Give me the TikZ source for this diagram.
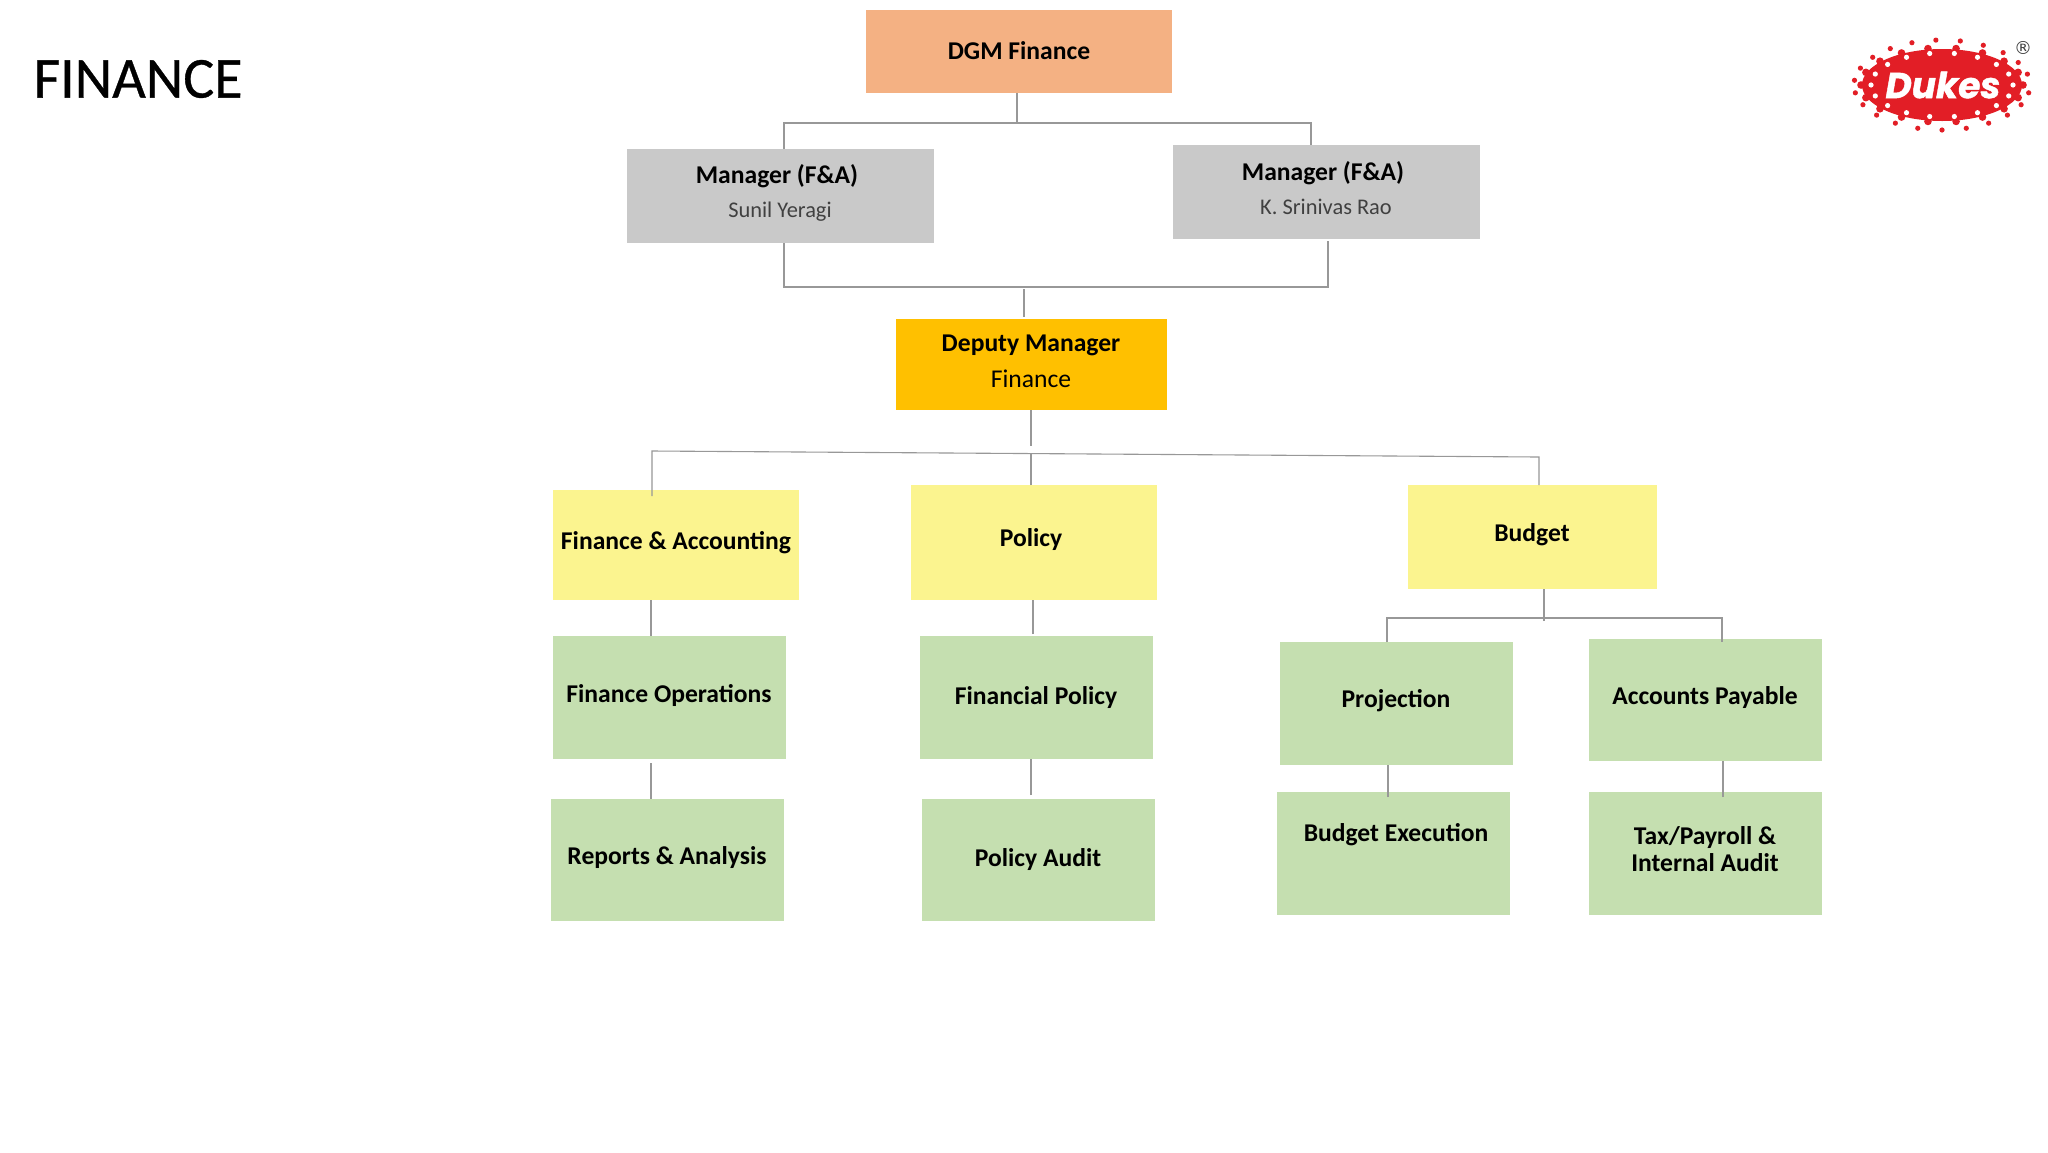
\documentclass[tikz,border=0pt]{standalone}
\usepackage{fontspec}
\setmainfont{Carlito}
\newfontfamily\logofont{Poppins}
\newfontfamily\regfont{DejaVu Sans}
\definecolor{cOrange}{HTML}{F4B183}
\definecolor{cGrey}{HTML}{C9C9C9}
\definecolor{cGold}{HTML}{FFC000}
\definecolor{cYellow}{HTML}{FBF48F}
\definecolor{cGreen}{HTML}{C5DFB0}
\definecolor{cLine}{HTML}{989898}
\definecolor{cRed}{HTML}{E21E26}
\tikzset{
  x=1pt,y=-1pt,
  boxnode/.style={inner sep=0pt,outer sep=0pt,anchor=center},
  lbl/.style={inner sep=0pt,outer sep=0pt,anchor=center,align=center,text=black,font=\fontsize{25.6}{27}\selectfont\bfseries},
  sublbl/.style={inner sep=0pt,outer sep=0pt,anchor=center,align=center,text=black!75,font=\fontsize{22.4}{25}\selectfont},
  conn/.style={draw=cLine,line width=1.1pt},
}
\newcommand{\bx}[6]{%
  \pgfmathsetmacro{\cxv}{(#3+#5)/2}\pgfmathsetmacro{\cyv}{(#4+#6)/2}%
  \pgfmathsetmacro{\wv}{#5-#3}\pgfmathsetmacro{\hv}{#6-#4}%
  \node[boxnode,fill=#1,minimum width=\wv pt,minimum height=\hv pt] (#2) at (\cxv,\cyv) {};}
\begin{document}
\begin{tikzpicture}
\useasboundingbox (0,0) rectangle (2048,1152);
\fill[white] (0,0) rectangle (2048,1152);
\node[inner sep=0pt,anchor=center,font=\fontsize{58}{60}\selectfont\addfontfeature{FakeBold=0.6}] (title) at (138,79) {FINANCE};
% boxes
\bx{cOrange}{dgm}{866}{10}{1172}{93}
\bx{cGrey}{mone}{627}{149}{934}{243}
\bx{cGrey}{mtwo}{1173}{145}{1480}{239}
\bx{cGold}{dep}{896}{319}{1167}{410}
\bx{cYellow}{fa}{553}{490}{799}{600}
\bx{cYellow}{pol}{911}{485}{1157}{600}
\bx{cYellow}{bud}{1408}{485}{1657}{589}
\bx{cGreen}{fops}{553}{636}{786}{759}
\bx{cGreen}{fpol}{920}{636}{1153}{759}
\bx{cGreen}{proj}{1280}{642}{1513}{765}
\bx{cGreen}{ap}{1589}{639}{1822}{761}
\bx{cGreen}{rep}{551}{799}{784}{921}
\bx{cGreen}{paud}{922}{799}{1155}{921}
\bx{cGreen}{bex}{1277}{792}{1510}{915}
\bx{cGreen}{tax}{1589}{792}{1822}{915}
% labels
\node[lbl] (tdgm) at (1019,51) {DGM Finance};
\node[lbl] (tmone) at (777,176) {Manager (F\&A)};
\node[sublbl] (smone) at (780,212) {Sunil Yeragi};
\node[lbl] (tmtwo) at (1323,173) {Manager (F\&A)};
\node[sublbl] (smtwo) at (1326,207) {K. Srinivas Rao};
\node[lbl] (tdep) at (1031,345) {Deputy Manager};
\node[lbl,font=\fontsize{25.6}{27}\selectfont] (sdep) at (1031,379) {Finance};
\node[lbl] (tfa) at (676,543) {Finance \& Accounting};
\node[lbl] (tpol) at (1031,540) {Policy};
\node[lbl] (tbud) at (1532,535) {Budget};
\node[lbl] (tfops) at (669,695) {Finance Operations};
\node[lbl] (tfpol) at (1036,698) {Financial Policy};
\node[lbl] (tproj) at (1396,701) {Projection};
\node[lbl] (tap) at (1705,698) {Accounts Payable};
\node[lbl] (trep) at (667,858) {Reports \& Analysis};
\node[lbl] (tpaud) at (1038,860) {Policy Audit};
\node[lbl] (tbex) at (1396,835) {Budget Execution};
\node[lbl] (ttax) at (1705,849) {Tax/Payroll \&\\Internal Audit};
% junction coordinates
\coordinate (jA) at (1017,123);
\coordinate (jAl) at (784,123);
\coordinate (jAr) at (1311,123);
\coordinate (jB) at (1024,287);
\coordinate (jBl) at (784,287);
\coordinate (jBr) at (1328,287);
\coordinate (jBt) at (1328,241);
\coordinate (jBm) at (1024,289);
\coordinate (jC) at (1031,446);
\coordinate (jCl) at (652,451);
\coordinate (jCm) at (1031,454);
\coordinate (jCr) at (1539,457);
\coordinate (jD) at (1544,621);
\coordinate (jDl) at (1387,618);
\coordinate (jDr) at (1722,618);
\coordinate (xFa) at (651,636);
\coordinate (xFb) at (651,763);
\coordinate (xPa) at (1033,634);
\coordinate (xPb) at (1031,795);
\coordinate (xQ) at (1388,797);
\coordinate (xR) at (1723,797);
\coordinate (xS) at (1031,485);
\coordinate (xT) at (1539,485);
\coordinate (xU) at (652,496);
\coordinate (xV) at (1024,317);
% connectors
\draw[conn] (jA |- dgm.south) -- (jA);
\draw[conn] (jAl |- mone.north) -- (jAl) -- (jAr) -- (jAr |- mtwo.north);
\draw[conn] (jBl |- mone.south) -- (jBl) -- (jBr) -- (jBt);
\draw[conn] (jBm) -- (xV);
\draw[conn] (jC |- dep.south) -- (jC);
\draw[conn] (xU) -- (jCl) -- (jCr) -- (xT);
\draw[conn] (xS) -- (jCm);
\draw[conn] (xFa) -- (xFa |- fa.south);
\draw[conn] (xFb) -- (xFb |- rep.north);
\draw[conn] (xPa) -- (xPa |- pol.south);
\draw[conn] (xPb) -- (xPb |- fpol.south);
\draw[conn] (jD) -- (jD |- bud.south);
\draw[conn] (jDl |- proj.north) -- (jDl) -- (jDr) -- (jDr |- proj.north);
\draw[conn] (xQ) -- (xQ |- proj.south);
\draw[conn] (xR) -- (xR |- ap.south);
% logo
\begin{scope}[shift={(1942,85)}]
  \fill[cRed] (0,0) ellipse [x radius=80,y radius=36];
  \foreach \a in {0,20,...,340}{\fill[cRed] ({81*cos(\a)},{37*sin(\a)}) circle (3.8);}
  \foreach \a in {10,26,...,354}{\fill[cRed] ({88*cos(\a)},{45*sin(\a)}) circle (2.6);}
  \foreach \a in {0,20,...,340}{\fill[white] ({71*cos(\a)},{32*sin(\a)}) circle (2.6);}
  \node[inner sep=0pt,text=white,font=\logofont\fontsize{36}{40}\selectfont\bfseries\itshape\addfontfeature{FakeBold=1.2}] (logotext) at (1,0) {Dukes};
\end{scope}
\node[inner sep=0pt,font=\regfont\fontsize{18}{18}\selectfont,text=black!75] (reg) at (2023,48) {®};
\end{tikzpicture}
\end{document}
